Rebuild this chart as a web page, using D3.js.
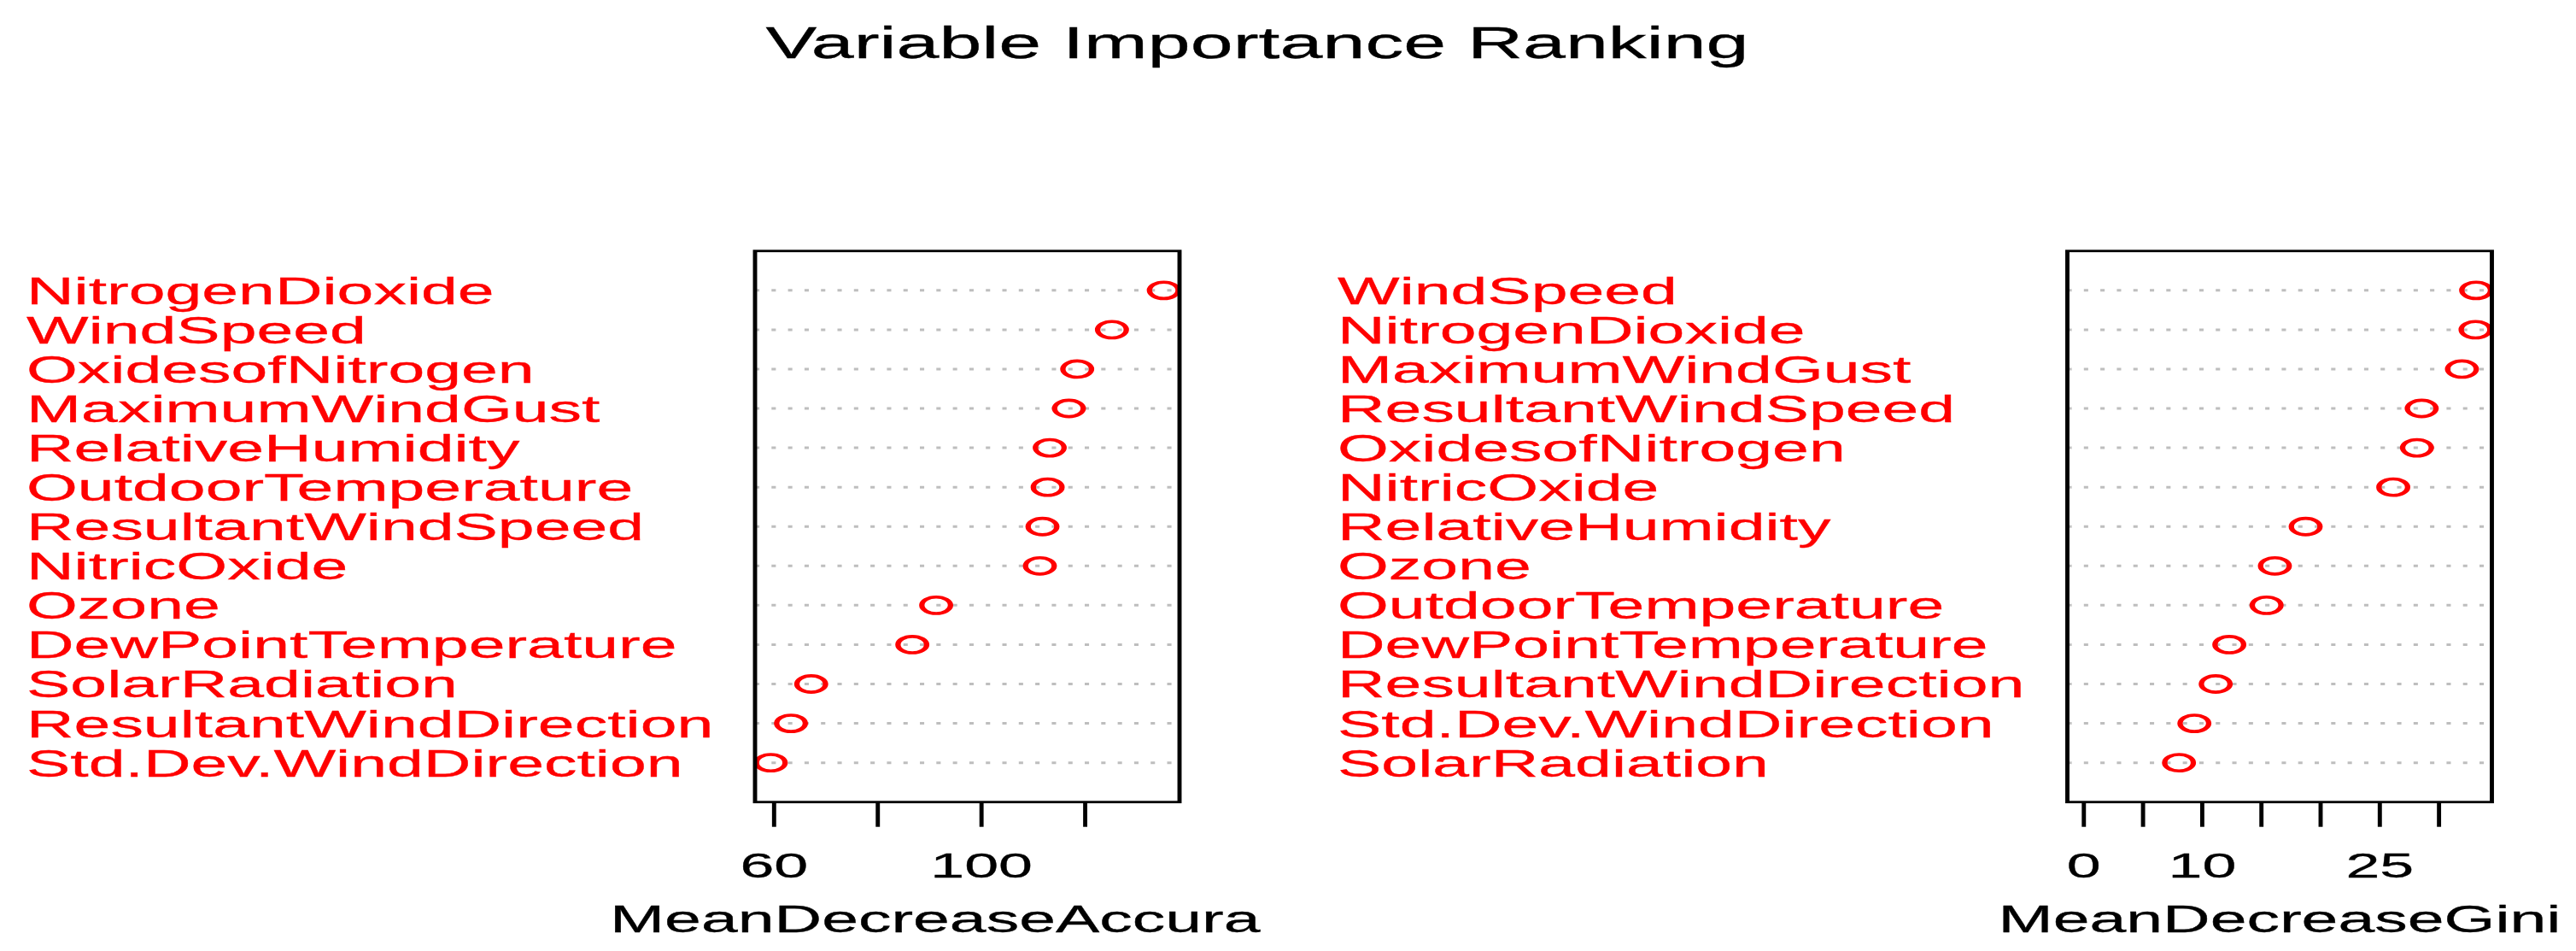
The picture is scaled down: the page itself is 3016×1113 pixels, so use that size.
<!DOCTYPE html>
<html>
<head>
<meta charset="utf-8">
<script src="https://cdn.jsdelivr.net/npm/d3@7"></script>
<style>
  html, body { margin: 0; padding: 0; background: #ffffff; }
  svg { display: block; }
</style>
</head>
<body>
<div id="chart"></div>
<script>
// ---------------- data ----------------
const chartTitle = "Variable Importance Ranking";

const accCategories = [
  "NitrogenDioxide", "WindSpeed", "OxidesofNitrogen", "MaximumWindGust",
  "RelativeHumidity", "OutdoorTemperature", "ResultantWindSpeed", "NitricOxide",
  "Ozone", "DewPointTemperature", "SolarRadiation", "ResultantWindDirection",
  "Std.Dev.WindDirection"
];
const accValues = [135.3, 125.3, 118.6, 117.0, 113.3, 112.9, 111.9, 111.4, 91.4, 86.8, 67.3, 63.4, 59.5];
const accTicks = [60, 80, 100, 120];
const accTickLabels = ["60", "", "100", ""];
const accXLabel = "MeanDecreaseAccura";

const giniCategories = [
  "WindSpeed", "NitrogenDioxide", "MaximumWindGust", "ResultantWindSpeed",
  "OxidesofNitrogen", "NitricOxide", "RelativeHumidity", "Ozone",
  "OutdoorTemperature", "DewPointTemperature", "ResultantWindDirection",
  "Std.Dev.WindDirection", "SolarRadiation"
];
const giniValues = [33.2, 33.15, 32.0, 28.6, 28.2, 26.2, 18.8, 16.2, 15.5, 12.35, 11.2, 9.4, 8.1];
const giniTicks = [0, 5, 10, 15, 20, 25, 30];
const giniTickLabels = ["0", "", "10", "", "", "25", ""];
const giniXLabel = "MeanDecreaseGini";

// ---------------- layout ----------------
const W = 3016, H = 1113;
const SX = 1.75;                 // horizontal stretch of the whole picture
const FONT = "'Liberation Sans', Arial, Helvetica, sans-serif";
const boxTop = 293.75, boxBottom = 938.7;
const RED = "#ff0000";

const svg = d3.select("#chart").append("svg")
  .attr("width", W).attr("height", H)
  .attr("viewBox", `0 0 ${W} ${H}`);

svg.append("rect").attr("width", W).attr("height", H).attr("fill", "#ffffff");

const root = svg.append("g").attr("transform", `scale(${SX},1)`);

root.append("text")
  .attr("x", 1472 / SX).attr("y", 68)
  .attr("text-anchor", "middle")
  .attr("font-family", FONT).attr("font-size", 51.3)
  .attr("fill", "#000000").attr("stroke", "#000000").attr("stroke-width", 0.3)
  .text(chartTitle);

function panel(cfg) {
  const g = root.append("g");
  const n = cfg.cats.length;
  const lo = cfg.zeroBased ? 0 : d3.min(cfg.vals);
  const hi = d3.max(cfg.vals);
  const pad = 0.04 * (hi - lo);
  const x = d3.scaleLinear().domain([lo - pad, hi + pad]).range([cfg.x0 / SX, cfg.x1 / SX]);
  const y = d3.scaleLinear().domain([0, n + 1]).range([boxBottom, boxTop]);
  const rows = cfg.cats.map((c, i) => ({ name: c, value: cfg.vals[i], pos: n - i }));

  // dotted guide lines
  const period = 19.3 / SX, dash = 2.9;
  g.selectAll("line.guide").data(rows).enter().append("line")
    .attr("class", "guide")
    .attr("x1", x.range()[0]).attr("x2", x.range()[1])
    .attr("y1", d => y(d.pos)).attr("y2", d => y(d.pos))
    .attr("stroke", "#bebebe").attr("stroke-width", 3)
    .attr("stroke-dasharray", `${dash} ${period - dash}`);

  // labels
  g.selectAll("text.lab").data(rows).enter().append("text")
    .attr("class", "lab")
    .attr("x", cfg.labelX / SX).attr("y", d => y(d.pos) + 16)
    .attr("font-family", FONT).attr("font-size", 44)
    .attr("fill", RED).attr("stroke", RED).attr("stroke-width", 0.3)
    .text(d => d.name);

  // points
  g.selectAll("circle.pt").data(rows).enter().append("circle")
    .attr("class", "pt")
    .attr("cx", d => x(d.value)).attr("cy", d => y(d.pos))
    .attr("r", 9.6)
    .attr("fill", "none").attr("stroke", RED).attr("stroke-width", 3.6);

  // box
  g.append("rect")
    .attr("x", x.range()[0]).attr("y", boxTop)
    .attr("width", x.range()[1] - x.range()[0]).attr("height", boxBottom - boxTop)
    .attr("fill", "none").attr("stroke", "#000000").attr("stroke-width", 2.8);

  // axis
  const ax = g.append("g").attr("transform", `translate(0,${boxBottom})`)
    .call(d3.axisBottom(x).tickValues(cfg.ticks)
      .tickFormat((d, i) => cfg.tickLabels[i]).tickSize(29).tickSizeOuter(0));
  ax.select(".domain").remove();
  ax.selectAll(".tick line").attr("stroke", "#000000").attr("stroke-width", 2.8);
  ax.selectAll(".tick text")
    .attr("y", 1027 - boxBottom).attr("dy", 0)
    .attr("font-family", FONT).attr("font-size", 41)
    .attr("fill", "#000000").attr("stroke", "#000000").attr("stroke-width", 0.3);
  ax.attr("font-family", FONT).attr("font-size", 41);

  // x label
  g.append("text")
    .attr("x", cfg.xlabX / SX).attr("y", 1091)
    .attr("text-anchor", cfg.xlabAnchor)
    .attr("font-family", FONT).attr("font-size", 44)
    .attr("fill", "#000000").attr("stroke", "#000000").attr("stroke-width", 0.3)
    .text(cfg.xlab);
}

panel({
  cats: accCategories, vals: accValues, zeroBased: false,
  x0: 884, x1: 1381, labelX: 31,
  ticks: accTicks, tickLabels: accTickLabels,
  xlab: accXLabel, xlabX: 714, xlabAnchor: "start"
});

panel({
  cats: giniCategories, vals: giniValues, zeroBased: true,
  x0: 2420.5, x1: 2917.5, labelX: 1566,
  ticks: giniTicks, tickLabels: giniTickLabels,
  xlab: giniXLabel, xlabX: (2420.5 + 2917.5) / 2, xlabAnchor: "middle"
});
</script>
</body>
</html>
